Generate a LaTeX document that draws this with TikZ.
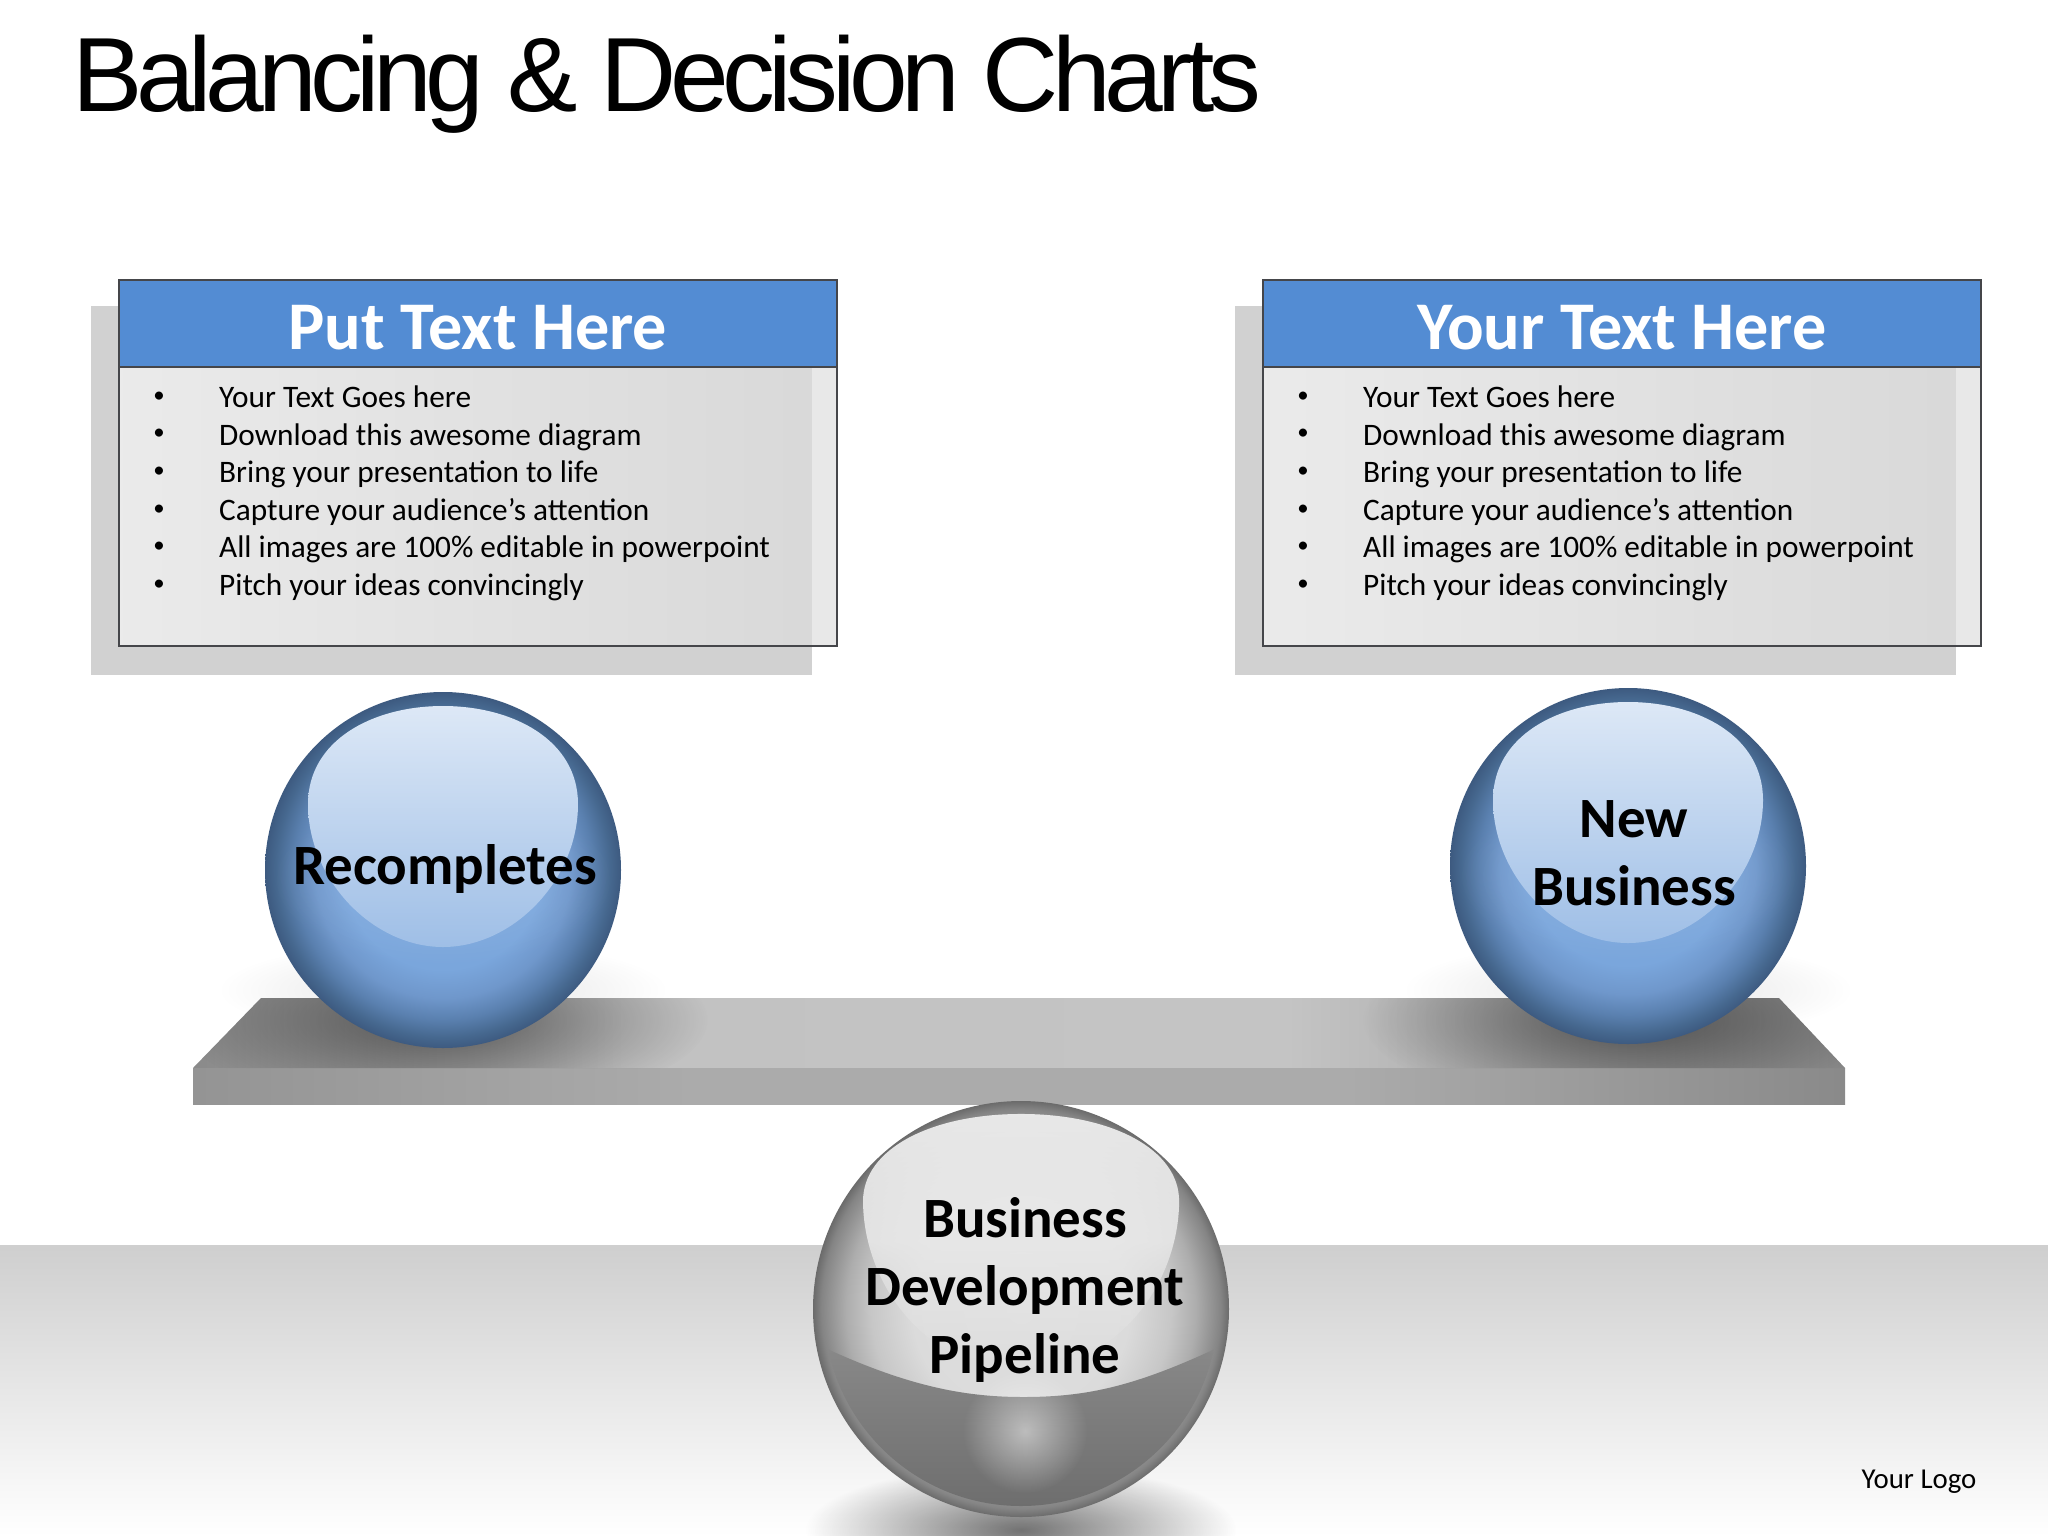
\documentclass[tikz,border=0pt]{standalone}
\usepackage{fontspec}
\setmainfont{Carlito}
\newfontfamily\titlefont[LetterSpace=-6.1]{Liberation Sans}
\usetikzlibrary{positioning,calc,fadings}

\definecolor{headblue}{HTML}{538CD3}
\definecolor{boxedge}{HTML}{45464A}
\definecolor{ballcore}{HTML}{7AA6DC}
\definecolor{ballmid}{HTML}{6F97CB}
\definecolor{ballside}{HTML}{5A80AF}
\definecolor{ballrim}{HTML}{46688F}
\definecolor{ballouter}{HTML}{3D5A80}

% edge of a path sits at 25bp in these shadings
\pgfdeclareradialshading{blueball}{\pgfpoint{0bp}{0bp}}{%
  color(0bp)=(ballcore);color(14bp)=(ballcore);color(18bp)=(ballmid);color(21bp)=(ballside);color(23.5bp)=(ballrim);color(25bp)=(ballouter);color(50bp)=(ballouter)}
\pgfdeclareradialshading{grayball}{\pgfpoint{0bp}{0bp}}{%
  color(0bp)=(black!13);color(13bp)=(black!14);color(18bp)=(black!22);color(21bp)=(black!32);color(24bp)=(black!48);color(25bp)=(black!58);color(50bp)=(black!58)}
\pgfdeclarehorizontalshading{planktop}{100bp}{%
  color(0bp)=(black!46);color(25bp)=(black!46);color(38bp)=(black!24);color(58bp)=(black!23);color(75bp)=(black!46);color(100bp)=(black!46)}
\pgfdeclarehorizontalshading{plankfront}{100bp}{%
  color(0bp)=(black!42);color(25bp)=(black!42);color(40bp)=(black!33);color(60bp)=(black!33);color(75bp)=(black!46);color(100bp)=(black!46)}
\tikzfading[name=softspot, inner color=transparent!0, outer color=transparent!100]
\tikzfading[name=domefade, top color=transparent!0, bottom color=transparent!100, middle color=transparent!10]

\tikzset{
  boxtitle/.style={font=\fontsize{19.4}{23}\selectfont\bfseries, text=white, anchor=base},
  listrow/.style={font=\fontsize{8.9}{11}\selectfont, anchor=base west, inner sep=0pt},
  listdot/.style={font=\fontsize{6.5}{8}\selectfont, anchor=center, inner sep=0pt},
  balllabel/.style={font=\fontsize{16.2}{19.35}\selectfont\bfseries, align=center, inner sep=0pt},
  blueglass/.pic={
    \shade[shading=blueball] (0,0) circle (178);
    \fill[white, path fading=softspot, opacity=.16] (0,-10) ellipse (172 and 85);
    \shade[top color=white!80!headblue, bottom color=white!44!headblue, middle color=white!62!headblue]
      (-135,66) .. controls (-135,130) and (-70,164) .. (0,164)
      .. controls (70,164) and (135,130) .. (135,66)
      .. controls (135,-10) and (70,-77) .. (0,-77)
      .. controls (-70,-77) and (-135,-10) .. (-135,66) -- cycle;
  },
  textpanel/.pic={
    \fill[black!18] (-28,-26) rectangle (693,-395);
    \shade[left color=black!8, right color=black!15] (0,-87) rectangle (693,-366);
    \fill[black!9] (693,-87) rectangle (718,-366);
    \fill[headblue] (0,0) rectangle (718,-87);
    \draw[boxedge, line width=.75pt] (0,0) rectangle (718,-366) (0,-87) -- (718,-87);
  }
}

\begin{document}
\begin{tikzpicture}[x=0.01cm,y=0.01cm]
  \useasboundingbox (0,0) rectangle (2048,-1536);
  \fill[white] (0,0) rectangle (2048,-1536);

  % Floor
  \shade[top color=black!19, bottom color=white] (0,-1245) rectangle (2048,-1536);

  % Title
  \node[font=\titlefont\fontsize{30}{36}\selectfont, anchor=base west, inner sep=0pt] (charttitle) at (72,-111) {Balancing \& Decision Charts};

  % Text panels
  \pic at (119,-280) {textpanel};
  \pic at (1263,-280) {textpanel};
  \node[boxtitle] (lefttitle) at (478,-349) {Put Text Here};
  \node[boxtitle] (righttitle) at (1622,-349) {Your Text Here};
  \foreach \side/\dx in {left/0,right/1144} {
    \foreach \i/\row in {0/Your Text Goes here,1/Download this awesome diagram,2/Bring your presentation to life,3/Capture your audience’s attention,4/All images are 100\% editable in powerpoint,5/Pitch your ideas convincingly} {
      \node[listdot] (\side dot\i) at ({159+\dx},{-397-37.6*\i}) {•};
      \node[listrow] (\side row\i) at ({218.5+\dx},{-407.5-37.6*\i}) {\row};
    }
  }

  % Soft shadows round the balls, above the plank
  \fill[black, path fading=softspot, opacity=.12] (443,-990) ellipse (225 and 50);
  \fill[black, path fading=softspot, opacity=.12] (1628,-990) ellipse (225 and 50);

  % Plank
  \shade[shading=planktop]
    (261,-998) -- (1779,-998) -- (1845,-1068) -- (193,-1068) -- cycle;
  \shade[shading=plankfront]
    (193,-1068) -- (1845,-1068) -- (1845,-1104) -- (193,-1104) -- cycle;
  \begin{scope}
    \clip (261,-998) -- (1779,-998) -- (1845,-1068) -- (193,-1068) -- cycle;
    \fill[black, path fading=softspot, opacity=.5] (443,-1020) ellipse (265 and 90);
    \fill[black, path fading=softspot, opacity=.5] (1628,-1020) ellipse (265 and 90);
  \end{scope}

  % Blue balls
  \pic at (443,-870) {blueglass};
  \pic at (1628,-866) {blueglass};
  \node[balllabel] (recompletes) at (445,-869) {Recompletes};
  \node[balllabel] (newbusiness) at (1634,-853) {New\\Business};

  % Shadow under the middle ball
  \fill[black, path fading=softspot, opacity=.55] (1021,-1530) ellipse (215 and 65);

  % Middle ball
  \begin{scope}[shift={(1021,-1309)}]
    \shade[shading=grayball] (0,0) circle (208);
    \fill[black!9, path fading=domefade]
      (-158,108) .. controls (-158,160) and (-90,195) .. (0,195)
      .. controls (90,195) and (158,160) .. (158,108)
      .. controls (158,30) and (100,-60) .. (0,-60)
      .. controls (-100,-60) and (-158,30) .. (-158,108) -- cycle;
    \begin{scope}
      \clip (0,0) circle (197);
      \shade[top color=black!46, bottom color=black!58]
        (-215,-30) .. controls (-120,-76) and (-60,-88) .. (2,-88)
        .. controls (70,-88) and (120,-76) .. (215,-30) -- (215,-215) -- (-215,-215) -- cycle;
      \fill[white, path fading=softspot, opacity=.5] (4,-122) ellipse (62 and 62);
    \end{scope}
  \end{scope}
  \node[balllabel] (pipeline) at (1025,-1290) {Business\\Development\\Pipeline};

  % Logo
  \node[font=\fontsize{8.2}{10}\selectfont, anchor=base west, inner sep=0pt] (yourlogo) at (1861,-1488) {Your Logo};
\end{tikzpicture}
\end{document}
